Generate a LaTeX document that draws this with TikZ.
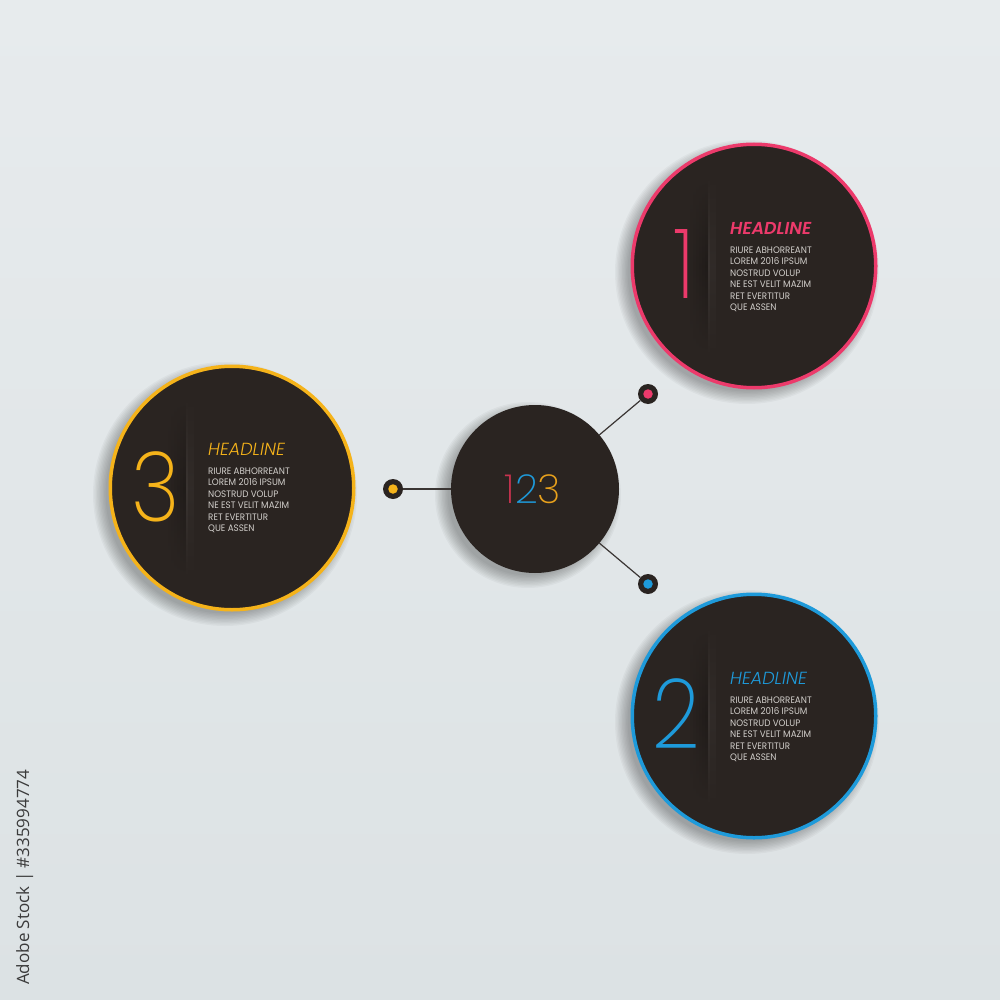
\documentclass[tikz,border=0pt]{standalone}
\usepackage{fontspec}
\setmainfont{Poppins}
\newfontfamily\plight{Poppins}[UprightFont={* Light},ItalicFont={* Light Italic}]
\newfontfamily\pbody{Poppins}[FakeStretch=0.93]
\newfontfamily\pdig{Poppins}[UprightFont={* ExtraLight}, FakeStretch=0.86]
\newfontfamily\pcen{Poppins}[UprightFont={* ExtraLight}]
\newfontfamily\psemi{Poppins}[UprightFont={* SemiBold},ItalicFont={* SemiBold Italic}]
\newfontfamily\osans{Open Sans}
\definecolor{bgtop}{HTML}{E7EBED}
\definecolor{bgbot}{HTML}{DCE2E4}
\definecolor{dk}{HTML}{2A2421}
\definecolor{pinkc}{HTML}{EC3A6B}
\definecolor{bluec}{HTML}{1E9ADA}
\definecolor{yelc}{HTML}{F5B31A}
\definecolor{crim}{HTML}{C8334F}
\definecolor{orng}{HTML}{E8A11C}
\definecolor{bodyc}{HTML}{D2CFCB}
\definecolor{linec}{HTML}{3A3533}
\definecolor{sidec}{HTML}{3B3B3B}
\newcommand\softshadow[3]{%
  \foreach \k in {0,...,9}{\fill[black, opacity=0.03] (#1-7,#2+6) circle[radius=#3+9-\k*1.4];}}
\newcommand\foldline[2]{%
  \foreach \j/\m in {0/96,1/92,2/88,3/84,4/80,5/76}{%
    \shade[top color=dk, bottom color=dk, middle color=dk!\m!black] (#1-64+\j*3,#2-88) rectangle (#1-61+\j*3+0.3,#2+88);
  }
  \shade[top color=dk, bottom color=dk, middle color=dk!93!white] (#1-46,#2-88) rectangle (#1-43,#2+88);
  \shade[top color=dk, bottom color=dk, middle color=dk!97!white] (#1-43.3,#2-88) rectangle (#1-38,#2+88);}
\tikzset{
  bigc/.style={circle, fill=dk, line width=3.5pt, minimum size=243.5pt, inner sep=0pt},
  midc/.style={circle, fill=dk, minimum size=168pt, inner sep=0pt},
  ring/.style={circle, fill=dk, minimum size=20pt, inner sep=0pt},
  dotc/.style={circle, minimum size=9.5pt, inner sep=0pt},
  conn/.style={draw=linec, line width=1.2pt},
  body/.style={text=bodyc, font=\pbody\fontsize{9.4}{11.5}\selectfont, align=left, inner sep=0pt, anchor=north west},
  head/.style={inner sep=0pt, anchor=base west},
  bignum/.style={inner sep=0pt, anchor=base east, font=\pdig\fontsize{97}{97}\selectfont},
}
\begin{document}
\begin{tikzpicture}[x=1pt,y=-1pt]
\useasboundingbox (0,0) rectangle (1000,1000);
\shade[top color=bgtop, bottom color=bgbot] (0,0) rectangle (1000,1000);
% shadows
\softshadow{754}{266}{123}
\softshadow{754}{716}{123}
\softshadow{232}{488}{123}
\softshadow{535}{489}{84}
% connectors
\node[midc] (mid) at (535,489) {};
\node[ring] (rp) at (648,394) {};
\node[ring] (rb) at (648,584) {};
\node[ring] (ry) at (393,489) {};
\draw[conn] (mid) -- (rp);
\draw[conn] (mid) -- (rb);
\draw[conn] (mid) -- (ry);
\node[dotc, fill=pinkc] (dp) at (rp) {};
\node[dotc, fill=bluec] (db) at (rb) {};
\node[dotc, fill=yelc] (dy) at (ry) {};
\node[font=\pcen\fontsize{40}{40}\selectfont, inner sep=0pt] (n123) at (533,489) {\textcolor{crim}{1}\textcolor{bluec}{2}\textcolor{orng}{3}};
% big circles
\node[bigc, draw=pinkc] (c1) at (754,266) {};
\node[bigc, draw=bluec] (c2) at (754,716) {};
\node[bigc, draw=yelc] (c3) at (232,488) {};
\foldline{754}{266}
\foldline{754}{716}
\foldline{232}{488}
% circle 1
\node[bignum, text=pinkc] (num1) at (695,298) {1};
\node[head, text=pinkc, font=\psemi\itshape\fontsize{17.3}{17.3}\selectfont] (h1) at (730,234) {HEADLINE};
\node[body] (b1) at (730,246.5) {RIURE ABHORREANT\\LOREM 2016 IPSUM\\NOSTRUD VOLUP\\NE EST VELIT MAZIM\\RET EVERTITUR\\QUE ASSEN};
% circle 2
\node[bignum, text=bluec] (num2) at (700,748) {2};
\node[head, text=bluec, font=\plight\itshape\fontsize{17.5}{17.5}\selectfont] (h2) at (730,684) {HEADLINE};
\node[body] (b2) at (730,696.5) {RIURE ABHORREANT\\LOREM 2016 IPSUM\\NOSTRUD VOLUP\\NE EST VELIT MAZIM\\RET EVERTITUR\\QUE ASSEN};
% circle 3
\node[bignum, text=yelc] (num3) at (180,521) {3};
\node[head, text=yelc, font=\plight\itshape\fontsize{17.5}{17.5}\selectfont] (h3) at (208,455) {HEADLINE};
\node[body] (b3) at (208,467.5) {RIURE ABHORREANT\\LOREM 2016 IPSUM\\NOSTRUD VOLUP\\NE EST VELIT MAZIM\\RET EVERTITUR\\QUE ASSEN};
% side label
\node[rotate=90, anchor=base west, inner sep=0pt, text=sidec, font=\osans\fontsize{17}{17}\selectfont] (side) at (29,985) {Adobe Stock | \#335994774};
\end{tikzpicture}
\end{document}
